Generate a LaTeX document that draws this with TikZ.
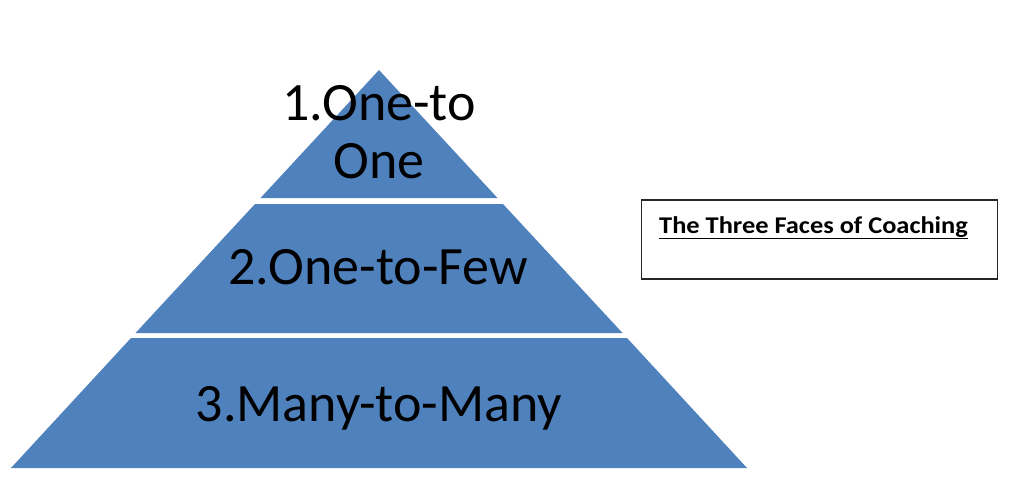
\documentclass[tikz,border=0pt]{standalone}
\usepackage{fontspec}
\setmainfont{Carlito}
\definecolor{pyrblue}{HTML}{4F81BD}
\begin{document}
\begin{tikzpicture}[x=1pt,y=-1pt,
  layer/.style={fill=pyrblue},
  bigtext/.style={font=\fontsize{54}{58}\selectfont, text=black, inner sep=0pt, align=center, anchor=base},
  titlebox/.style={draw=black!85, line width=1.4pt, minimum width=356pt, minimum height=79pt, inner sep=0pt},
  titletext/.style={font=\bfseries\fontsize{24}{28}\selectfont, inner sep=0pt, anchor=base west}]
\useasboundingbox (0,0) rectangle (1024,477);
% pyramid layers
\fill[layer] (379,70) -- (497.5,198) -- (260.5,198) -- cycle;
\fill[layer] (255,204) -- (503,204) -- (622.5,333) -- (135.5,333) -- cycle;
\fill[layer] (131,338) -- (627,338) -- (747,468) -- (11,468) -- cycle;
% labels
\node[bigtext] (l1) at (379,178) {1.One-to\\One};
\node[bigtext] (l2) at (378,284) {2.One-to-Few};
\node[bigtext] (l3) at (379,421) {3.Many-to-Many};
% title box
\node[titlebox] (box) at (819.5,239.5) {};
\node[titletext] (title) at (659,233) {\scalebox{1.1}[1]{\underline{The Three Faces of Coaching}}};
\end{tikzpicture}
\end{document}
